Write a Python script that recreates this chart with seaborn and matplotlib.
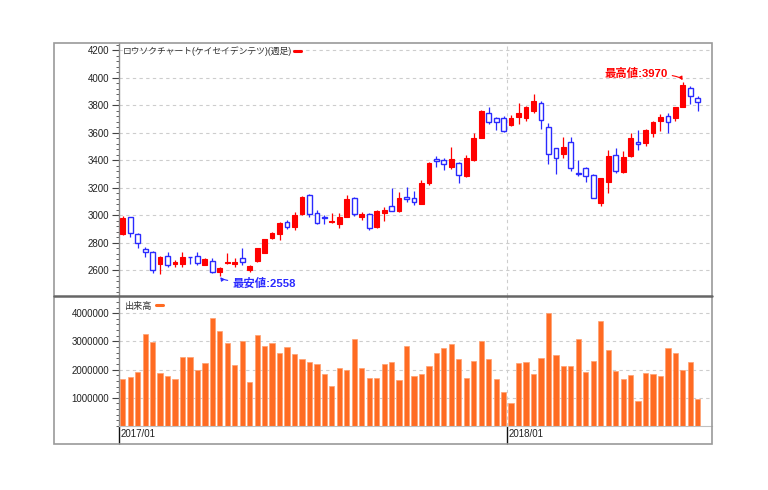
import numpy as np
import seaborn as sns
import matplotlib.pyplot as plt
from matplotlib.lines import Line2D
from matplotlib.patches import Rectangle
from matplotlib.ticker import MultipleLocator

# weekly OHLC (ケイセイデンテツ, 2017/01 - 2018/06)
opens = [2860, 2983, 2859, 2753, 2728, 2644, 2704, 2641, 2641, 2697,
         2702, 2636, 2665, 2588, 2649, 2644, 2685, 2600, 2665, 2726,
         2830, 2859, 2947, 2910, 3007, 3145, 3017, 2985, 2949, 2935,
         2988, 3121, 2988, 3005, 2910, 3012, 3068, 3031, 3128, 3121,
         3080, 3235, 3405, 3400, 3347, 3376, 3286, 3398, 3563, 3740,
         3704, 3704, 3653, 3716, 3704, 3757, 3818, 3643, 3485, 3442,
         3534, 3303, 3340, 3289, 3090, 3243, 3437, 3316, 3430, 3534,
         3527, 3600, 3684, 3721, 3704, 3782, 3927, 3854]
highs = [2990, 2988, 2867, 2770, 2738, 2702, 2728, 2673, 2733, 2697,
         2733, 2685, 2685, 2624, 2721, 2690, 2758, 2636, 2760, 2825,
         2879, 2952, 2964, 3019, 3138, 3153, 3034, 2998, 3017, 3017,
         3145, 3133, 3019, 3012, 3036, 3061, 3194, 3165, 3201, 3172,
         3255, 3388, 3431, 3412, 3496, 3388, 3436, 3600, 3762, 3782,
         3714, 3721, 3726, 3818, 3794, 3879, 3830, 3672, 3485, 3568,
         3570, 3400, 3350, 3296, 3272, 3471, 3485, 3466, 3600, 3617,
         3624, 3684, 3738, 3740, 3789, 3970, 3939, 3867]
lows = [2855, 2838, 2758, 2697, 2580, 2571, 2624, 2624, 2624, 2641,
        2636, 2636, 2581, 2558, 2644, 2624, 2636, 2588, 2661, 2721,
        2823, 2818, 2896, 2891, 3000, 2983, 2935, 2935, 2939, 2908,
        2983, 2993, 2964, 2891, 2908, 2959, 3031, 3024, 3092, 3073,
        3080, 3218, 3347, 3327, 3334, 3230, 3279, 3393, 3558, 3665,
        3617, 3607, 3648, 3660, 3684, 3745, 3629, 3369, 3296, 3413,
        3320, 3284, 3243, 3121, 3066, 3163, 3308, 3308, 3425, 3473,
        3502, 3568, 3612, 3600, 3684, 3782, 3806, 3757]
closes = [2975, 2867, 2794, 2728, 2600, 2692, 2636, 2661, 2692, 2692,
          2653, 2680, 2588, 2617, 2661, 2656, 2656, 2629, 2758, 2823,
          2872, 2944, 2915, 3000, 3133, 3005, 2944, 2978, 2959, 2988,
          3116, 3005, 3005, 2908, 3031, 3036, 3031, 3121, 3114, 3097,
          3235, 3376, 3395, 3368, 3405, 3291, 3412, 3558, 3757, 3677,
          3677, 3612, 3704, 3745, 3789, 3830, 3689, 3442, 3418, 3495,
          3340, 3296, 3284, 3121, 3267, 3430, 3320, 3422, 3558, 3515,
          3619, 3680, 3714, 3677, 3789, 3947, 3867, 3825]
volume = [1660000, 1720000, 1930000, 3270000, 2990000, 1890000, 1790000, 1660000, 2460000, 2430000,
          1990000, 2220000, 3820000, 3360000, 2930000, 2150000, 3030000, 1560000, 3230000, 2850000,
          2960000, 2600000, 2790000, 2560000, 2390000, 2260000, 2210000, 1850000, 1410000, 2050000,
          1990000, 3090000, 2050000, 1700000, 1700000, 2210000, 2280000, 1640000, 2850000, 1780000,
          1850000, 2120000, 2590000, 2760000, 2920000, 2380000, 1700000, 2320000, 3020000, 2380000,
          1680000, 1220000, 830000, 2220000, 2280000, 1850000, 2410000, 3990000, 2510000, 2120000,
          2120000, 3090000, 1920000, 2320000, 3730000, 2690000, 1960000, 1680000, 1810000, 880000,
          1880000, 1850000, 1790000, 2780000, 2590000, 1990000, 2260000, 960000]

tick_weeks = [0, 52]
tick_labels = ["2017/01", "2018/01"]
price_ticks = [2600, 2800, 3000, 3200, 3400, 3600, 3800, 4000, 4200]
vol_ticks = [1000000, 2000000, 3000000, 4000000]

RED = "#FF0000"
BLUE = "#2A2AFF"
ORANGE = "#FF6B22"
GRID = "#CDCDCD"

sns.set_style("white")
plt.rcParams['font.family'] = ['Liberation Sans', 'Noto Sans CJK JP']

W, H = 768, 490
fig = plt.figure(figsize=(7.68, 4.9), dpi=100)


def fx(px):
    return px / W


def fy(py):
    return 1 - py / H


ax = fig.add_axes([fx(119), fy(296), fx(712) - fx(119), fy(43) - fy(296)])
ax2 = fig.add_axes([fx(119), fy(426), fx(712) - fx(119), fy(296) - fy(426)])

x = np.arange(len(opens))
o = np.array(opens)
c = np.array(closes)
up = c >= o
cols = [RED if u else BLUE for u in up]

# candles
ax.vlines(x, lows, highs, colors=cols, lw=0.9, zorder=2)
bottom = np.minimum(o, c)
height = np.maximum(np.abs(c - o), 4)
ax.bar(x[up], height[up], bottom=bottom[up], width=0.64,
       color=RED, edgecolor=RED, lw=0.8, zorder=3)
ax.bar(x[~up], height[~up], bottom=bottom[~up], width=0.64,
       color="white", edgecolor=BLUE, lw=1.0, zorder=3)

# volume
sns.barplot(x=x, y=volume, ax=ax2, color=ORANGE, saturation=1, width=0.7,
            native_scale=True, errorbar=None, edgecolor="#FFA070", linewidth=0.5, zorder=2)
ax2.set_xlabel("")
ax2.set_ylabel("")

for a in (ax, ax2):
    a.set_xlim(-0.5, 78.9)
    a.set_axisbelow(True)
    a.grid(axis="y", linestyle=(0, (3, 3)), color=GRID, lw=0.8)
    a.grid(axis="x", visible=False)
    a.axvline(tick_weeks[1] - 0.5, linestyle=(0, (3, 3)), color=GRID, lw=0.8, zorder=0)
    for s in ("top", "right", "bottom"):
        a.spines[s].set_visible(False)
    a.spines["left"].set_color("#8a8a8a")
    a.spines["left"].set_linewidth(1)
    a.tick_params(axis="y", which="major", length=5, width=0.8, color="#444",
                  labelsize=7, pad=2, labelcolor="#222", left=True)
    a.tick_params(axis="y", which="minor", length=2, width=0.6, color="#444", left=True)

ax.set_ylim(2411, 4251)
ax.set_yticks(price_ticks)
ax.yaxis.set_minor_locator(MultipleLocator(40))
ax.set_xticks([])

ax2.set_ylim(0, 4610000)
ax2.set_yticks(vol_ticks)
ax2.set_yticklabels([str(v) for v in vol_ticks])
ax2.yaxis.set_minor_locator(MultipleLocator(200000))
ax2.spines["bottom"].set_visible(True)
ax2.spines["bottom"].set_color("#c0c0c0")
ax2.set_xticks([w - 0.5 for w in tick_weeks])
ax2.set_xticklabels([])
ax2.tick_params(axis="x", length=13, width=1, color="#111", direction="out", bottom=True)
for w, lab in zip(tick_weeks, tick_labels):
    ax2.annotate(lab, xy=(w - 0.5, 0), xycoords=ax2.get_xaxis_transform(),
                 xytext=(1.2, -2), textcoords="offset points",
                 ha="left", va="top", fontsize=7, color="#222")

# legends
ax.legend(handles=[Line2D([], [], color=RED, lw=2.2)],
          labels=["ロウソクチャート(ケイセイデンテツ)(週足)"],
          loc="upper left", bbox_to_anchor=(0, 1), markerfirst=False, frameon=False,
          handlelength=0.7, handletextpad=0.3, fontsize=6.3, borderaxespad=0.2,
          borderpad=0.2, labelcolor="#333")
ax2.legend(handles=[Line2D([], [], color=ORANGE, lw=2.2)], labels=["出来高"],
           loc="upper left", bbox_to_anchor=(0, 1), markerfirst=False, frameon=False,
           handlelength=0.7, handletextpad=0.5, fontsize=6.6, borderaxespad=0.4,
           borderpad=0.2, labelcolor="#333")

# high / low annotations
i_lo = int(np.argmin(lows))
i_hi = int(np.argmax(highs))
ax.annotate(f"最安値:{lows[i_lo]}", xy=(i_lo, lows[i_lo]), xytext=(9, -5),
            textcoords="offset points", ha="left", va="center", fontsize=8.2,
            fontweight="bold", color=BLUE,
            arrowprops=dict(arrowstyle="-|>", color=BLUE, lw=0.8, mutation_scale=5,
                            connectionstyle="angle3,angleA=0,angleB=90",
                            shrinkA=1, shrinkB=1))
ax.annotate(f"最高値:{highs[i_hi]}", xy=(i_hi, highs[i_hi]), xytext=(-11, 6),
            textcoords="offset points", ha="right", va="center", fontsize=8.2,
            fontweight="bold", color=RED,
            arrowprops=dict(arrowstyle="-|>", color=RED, lw=0.8, mutation_scale=5,
                            connectionstyle="angle3,angleA=0,angleB=90",
                            shrinkA=1, shrinkB=1))

# frame and panel separator
fig.add_artist(Rectangle((fx(54), fy(444)), fx(712) - fx(54), fy(43) - fy(444),
                         transform=fig.transFigure, fill=False, edgecolor="#9a9a9a", lw=1.2))
fig.add_artist(Line2D([fx(54), fx(712)], [fy(296), fy(296)], transform=fig.transFigure,
                      color="#666", lw=1.8))

fig.savefig("out.png", dpi=100)
